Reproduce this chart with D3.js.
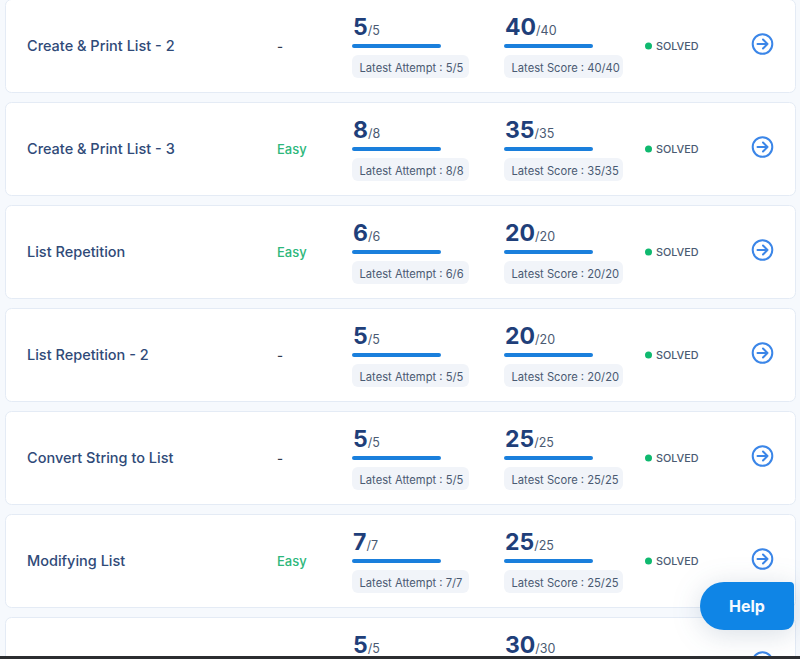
<!DOCTYPE html>
<html>
<head>
<meta charset="utf-8">
<script src="https://cdn.jsdelivr.net/npm/d3@7/dist/d3.min.js"></script>
<style>
html, body { margin: 0; padding: 0; background: #f6f9fd; overflow: hidden; }
text { font-family: Inter, "Noto Sans", sans-serif; }
</style>
</head>
<body>
<svg id="chart" width="800" height="659"></svg>
<script>
var titles = ["Create & Print List - 2", "Create & Print List - 3", "List Repetition", "List Repetition - 2", "Convert String to List", "Modifying List", ""];
var levels = ["-", "Easy", "Easy", "-", "-", "Easy", ""];
var attempts = [5, 8, 6, 5, 5, 7, 5];
var attemptsMax = [5, 8, 6, 5, 5, 7, 5];
var scores = [40, 35, 20, 20, 25, 25, 30];
var scoresMax = [40, 35, 20, 20, 25, 25, 30];
var statusLabels = ["SOLVED", "SOLVED", "SOLVED", "SOLVED", "SOLVED", "SOLVED", "SOLVED"];

var navy = "#1f3f7a";
var titleBlue = "#2f4a78";
var grey = "#4a5a72";
var barBlue = "#1a7fdc";

var svg = d3.select("#chart");

// rows are 103px apart, centre of the first one sits at y=46
var rowY = d3.scaleLinear().domain([0, 6]).range([46, 664]);
var barW = d3.scaleLinear().domain([0, 1]).range([0, 89]);

var rows = svg.selectAll("g.row")
    .data(titles)
    .enter()
    .append("g")
    .attr("class", "row")
    .attr("transform", function(d, i) { return "translate(0," + rowY(i) + ")"; });

rows.append("rect")
    .attr("x", 5.5)
    .attr("y", -46.5)
    .attr("width", 790)
    .attr("height", 93)
    .attr("rx", 6)
    .attr("fill", "#ffffff")
    .attr("stroke", "#e4ebf5");

rows.append("text")
    .attr("x", 27)
    .attr("y", 5)
    .attr("font-size", 14.5)
    .attr("font-weight", 500)
    .attr("fill", titleBlue)
    .text(function(d) { return d; });

rows.append("text")
    .attr("x", 277)
    .attr("y", 5)
    .attr("font-size", 13)
    .attr("font-weight", 500)
    .attr("fill", function(d, i) { return levels[i] == "Easy" ? "#2db77b" : "#2f3b4f"; })
    .text(function(d, i) { return levels[i]; });

var drawStat = function(x, vals, maxes, label, pillW) {
    var big = rows.append("text")
        .attr("x", x + 1)
        .attr("y", -11)
        .attr("fill", navy);
    big.append("tspan")
        .attr("font-size", 23)
        .attr("font-weight", 700)
        .text(function(d, i) { return vals[i]; });
    big.append("tspan")
        .attr("font-size", 12.5)
        .attr("fill", grey)
        .text(function(d, i) { return "/" + maxes[i]; });

    rows.append("rect")
        .attr("x", x)
        .attr("y", -2)
        .attr("height", 4)
        .attr("rx", 2)
        .attr("fill", barBlue)
        .attr("width", function(d, i) { return barW(vals[i] / maxes[i]); });

    rows.append("rect")
        .attr("x", x)
        .attr("y", 9)
        .attr("height", 23)
        .attr("rx", 6)
        .attr("fill", "#f1f4f9")
        .attr("width", function(d, i) { return pillW; });

    rows.append("text")
        .attr("x", x + 7.5)
        .attr("y", 26)
        .attr("font-size", 11.2)
        .attr("fill", grey)
        .text(function(d, i) { return label + " : " + vals[i] + "/" + maxes[i]; });
};

drawStat(352, attempts, attemptsMax, "Latest Attempt", 117);
drawStat(504, scores, scoresMax, "Latest Score", 119);

rows.append("circle")
    .attr("cx", 648.5)
    .attr("cy", 0)
    .attr("r", 3.5)
    .attr("fill", "#0fb96f");

rows.append("text")
    .attr("x", 656)
    .attr("y", 4)
    .attr("font-size", 10.8)
    .attr("font-weight", 500)
    .attr("fill", grey)
    .text(function(d, i) { return statusLabels[i]; });

// arrow button
var arrow = rows.append("g")
    .attr("transform", "translate(762.5,-2)")
    .attr("fill", "none")
    .attr("stroke", "#3b86e8")
    .attr("stroke-width", 2)
    .attr("stroke-linecap", "round")
    .attr("stroke-linejoin", "round");
arrow.append("circle").attr("r", 9.8);
arrow.append("path").attr("d", "M-5,0H5M0.5,-4.5L5,0L0.5,4.5");

// help button
var help = svg.append("g");
help.append("path")
    .attr("d", "M724,582H790Q794,582 794,586V618Q794,630 782,630H724A24,24 0 0 1 724,582Z")
    .attr("fill", "#0f85e6")
    .style("filter", "drop-shadow(0 4px 14px rgba(40,70,110,0.18))");
help.append("text")
    .attr("x", 747)
    .attr("y", 612)
    .attr("text-anchor", "middle")
    .attr("font-size", 16)
    .attr("font-weight", 700)
    .attr("fill", "#f4f9ff")
    .text("Help");

// dark strip at the bottom edge of the screenshot
svg.append("rect")
    .attr("x", 0)
    .attr("y", 656)
    .attr("width", 800)
    .attr("height", 3)
    .attr("fill", "#2b2d30");
</script>
</body>
</html>
